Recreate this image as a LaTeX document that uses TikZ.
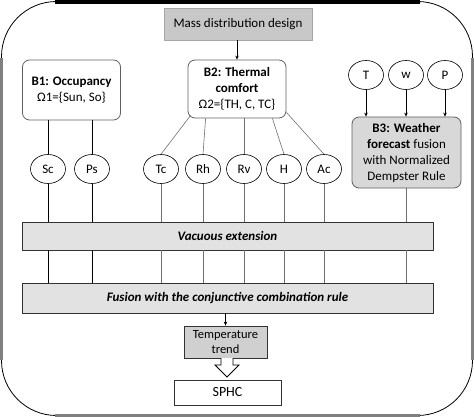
\documentclass[tikz,border=0pt]{standalone}
\usepackage{fontspec}
\setmainfont{Carlito}
\usetikzlibrary{shapes.geometric,arrows.meta,calc}
\definecolor{massfill}{HTML}{C8C8C8}
\definecolor{bthree}{HTML}{D8D8D8}
\definecolor{barfill}{HTML}{E2E2E2}
\definecolor{tempfill}{HTML}{D0D0D0}
\definecolor{edgegray}{HTML}{606060}
\definecolor{linegray}{HTML}{707070}
\begin{document}
\begin{tikzpicture}[x=1pt,y=-1pt,
  txt/.style={font=\fontsize{13}{16}\selectfont},
  bbox/.style={txt,draw=edgegray,rounded corners=7pt,align=center,inner sep=0pt,line width=0.8pt},
  var/.style={txt,draw=black,ellipse,minimum width=35pt,minimum height=29pt,inner sep=0pt,line width=0.6pt},
  bar/.style={draw=black!80,fill=barfill,minimum width=411pt,inner sep=0pt,line width=0.8pt,font=\fontsize{13}{15}\selectfont\bfseries\itshape},
  blk/.style={draw=black,line width=0.9pt},
  gry/.style={draw=linegray,line width=0.6pt},
  arr/.style={draw=black,line width=0.6pt,-{Stealth[length=4pt,width=3.5pt]}}
]
\useasboundingbox (0,0) rectangle (474,417);
% outer frame
\draw[line width=0.8pt,rounded corners=55pt] (1.5,1.5) rectangle (472.5,415.5);
\draw[line width=4pt,black] (55,2) -- (420,2);
\draw[line width=2.5pt,gray] (1.5,58) -- (1.5,360);
\draw[line width=2.5pt,gray] (472.5,58) -- (472.5,360);
\draw[line width=2.5pt,gray] (55,415.5) -- (420,415.5);

% nodes
\node[txt,draw=gray!70,fill=massfill,minimum width=148pt,minimum height=32pt,inner sep=0pt] (mass) at (238,24) {Mass distribution design};
\node[bbox,minimum width=98pt,minimum height=60pt] (B1) at (71.5,90) {\textbf{B1: Occupancy}\\Ω1=\{Sun, So\}};
\node[bbox,minimum width=98pt,minimum height=58pt] (B2) at (237,89) {\textbf{B2: Thermal}\\\textbf{comfort}\\Ω2=\{TH, C, TC\}};
\node[bbox,fill=bthree,minimum width=109pt,minimum height=71pt] (B3) at (406.5,152.5) {\textbf{B3: Weather}\\\textbf{forecast} fusion\\with Normalized\\Dempster Rule};

\node[var] (Sc) at (48,169) {Sc};
\node[var] (Ps) at (92,169) {Ps};
\node[var] (Tc) at (161,169) {Tc};
\node[var] (Rh) at (203,169) {Rh};
\node[var] (Rv) at (244,169) {Rv};
\node[var] (H) at (284,169) {H};
\node[var] (Ac) at (324,169) {Ac};
\node[var] (T) at (366,75) {T};
\node[var] (w) at (406,75) {w};
\node[var] (P) at (445,75) {P};

\node[bar,minimum height=28pt] (vac) at (227.5,236) {Vacuous extension};
\node[bar,minimum height=30pt] (fus) at (227.5,298) {Fusion with the conjunctive combination rule};

\node[txt,draw=black!80,fill=tempfill,minimum width=83pt,minimum height=32pt,inner sep=0pt,align=center,line width=0.8pt,font=\fontsize{12.5}{15}\selectfont] (temp) at (225.5,342) {Temperature\\trend};
\node[txt,draw=black!80,minimum width=107pt,minimum height=25pt,inner sep=0pt,line width=0.8pt,font=\fontsize{14}{16}\selectfont] (sphc) at (227.5,392.5) {SPHC};

% connectors
\draw[arr] (mass.south -| B2.north) -- (B2.north);
\draw[blk] (B1.south -| Sc) -- (Sc.north);
\draw[blk] (B1.south -| Ps) -- (Ps.north);
\draw[gry] ([xshift=3pt,yshift=3pt]B2.south west) -- (Tc.north);
\draw[gry] ([xshift=18pt]B2.south west) -- (Rh.north);
\draw[gry] (B2.south -| Rv) -- (Rv.north);
\draw[gry] ([xshift=-14pt]B2.south east) -- (H.north);
\draw[gry] ([yshift=6pt]B2.south east) -- (Ac.north);
\foreach \v in {T,w,P} \draw[arr] (\v.south) -- (\v.south |- B3.north);

\foreach \v/\s in {Sc/blk,Ps/blk,Tc/gry,Rh/gry,Rv/gry,H/gry,Ac/gry}{
  \draw[\s] (\v.south) -- (\v |- vac.north);
  \draw[\s] (\v |- vac.south) -- (\v |- fus.north);
}
\draw[gry] (B3.south) -- (B3.south |- vac.north);
\draw[gry] (B3.south |- vac.south) -- (B3.south |- fus.north);

\draw[arr] (fus.south -| temp.north) -- (temp.north);
% hollow block arrow
\draw[line width=0.8pt,fill=white] (221,358) -- (221,365) -- (215,365) -- (227,377) -- (239,365) -- (233,365) -- (233,358);
\end{tikzpicture}
\end{document}
